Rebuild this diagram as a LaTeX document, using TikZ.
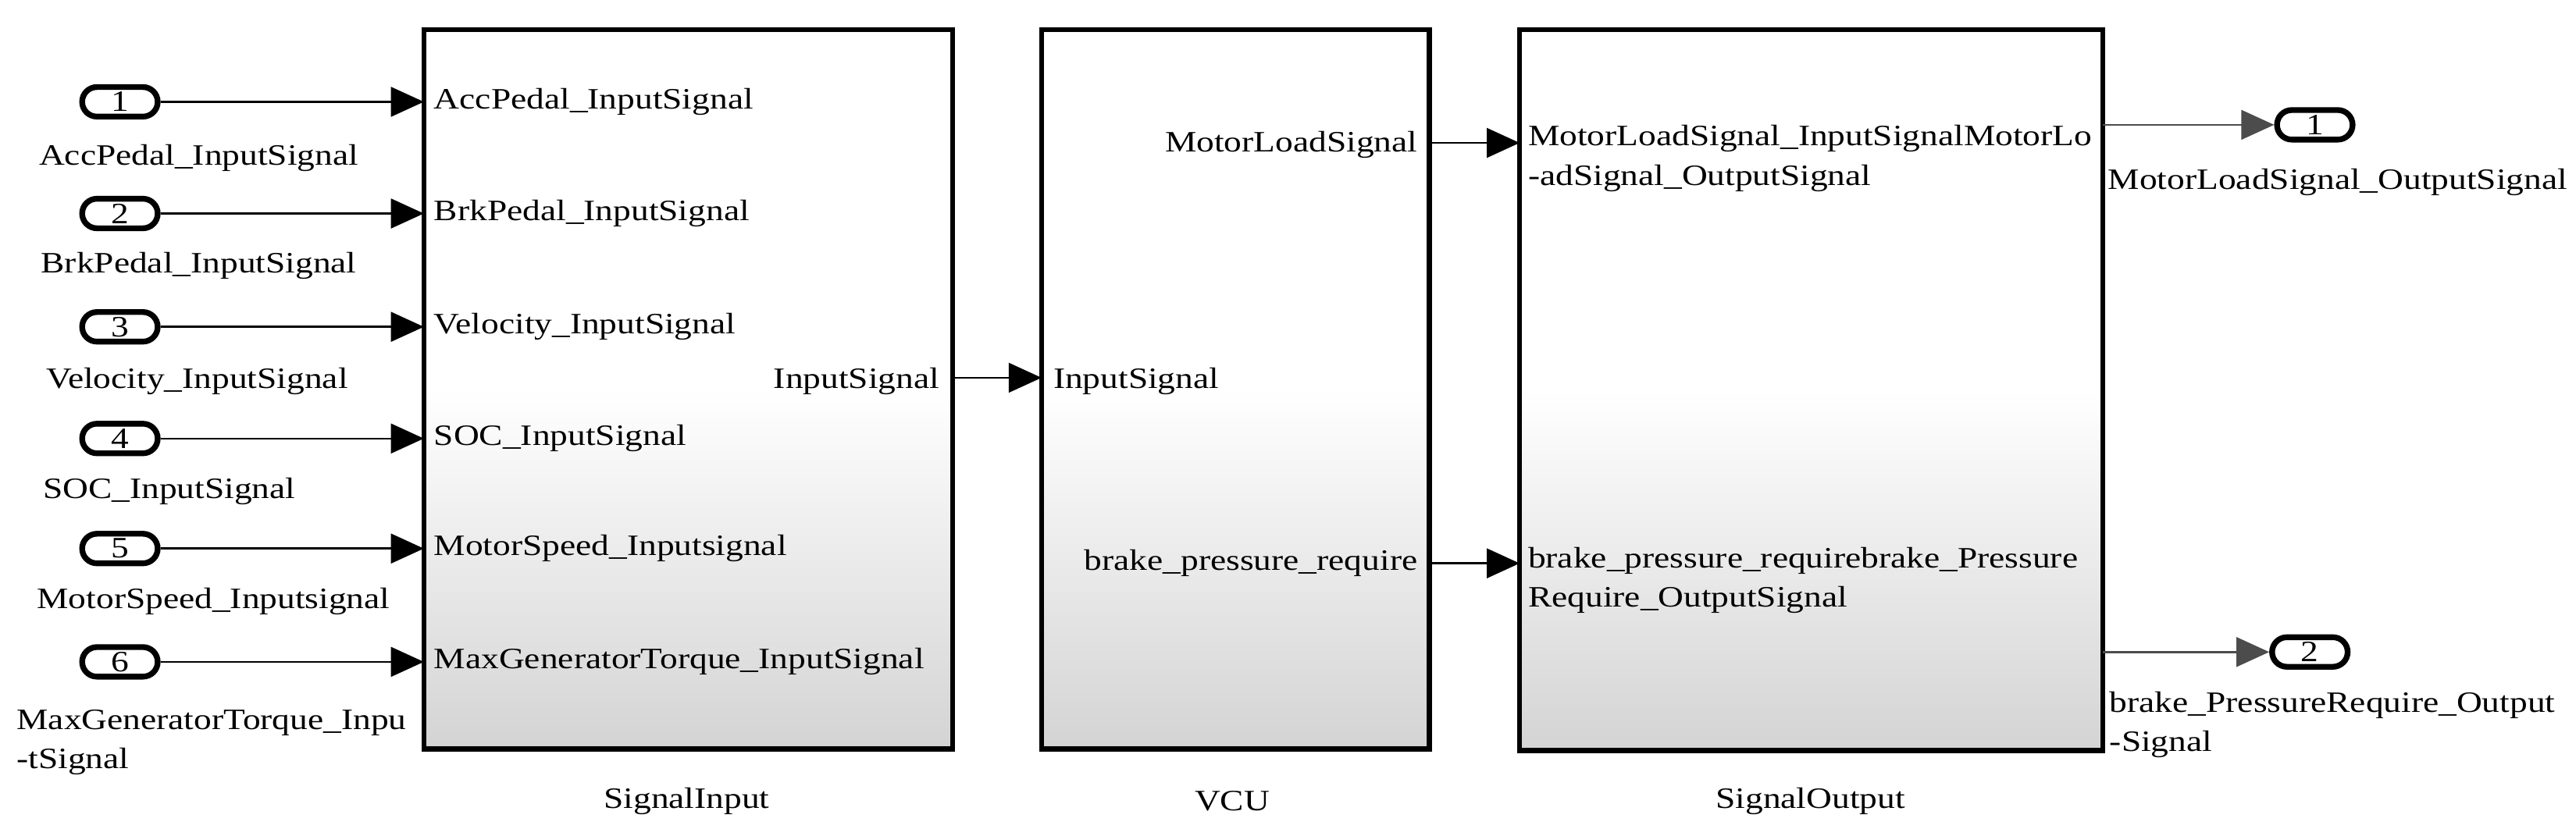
\documentclass[tikz,border=0pt]{standalone}
\usepackage{fontspec}
\setmainfont{Liberation Serif}[FakeStretch=1.2]
\usetikzlibrary{arrows.meta}
\begin{document}
\begin{tikzpicture}[x=1pt,y=-1pt,
  txt/.style={font=\fontsize{18}{24}\selectfont, inner sep=0pt},
  port/.style={draw, line width=3.5pt, rounded corners=9pt, minimum width=46pt, minimum height=18pt, inner sep=0pt, font=\fontsize{18}{20}\selectfont},
  blk/.style={draw, line width=3pt, top color=white, bottom color=black!17, middle color=white},
  sig/.style={line width=1.2pt, -{Triangle[length=20pt,width=18pt]}},
  osig/.style={line width=1.2pt, draw=black!70, -{Triangle[length=20pt,width=18pt]}}]
\useasboundingbox (0,0) rectangle (1568,509);
% blocks
\shade[blk] (258,18) rectangle (580,456);
\draw[line width=3pt] (258,18) rectangle (580,456);
\shade[blk] (634,18) rectangle (870,456);
\draw[line width=3pt] (634,18) rectangle (870,456);
\shade[blk] (925,18) rectangle (1280,457);
\draw[line width=3pt] (925,18) rectangle (1280,457);
\node[txt] (lsi) at (418,488) {SignalInput};
\node[txt] (lvcu) at (750,488) {VCU};
\node[txt] (lso) at (1102,488) {SignalOutput};
% inports
\foreach \i/\y/\t in {1/62/AccPedal\_InputSignal, 2/130/BrkPedal\_InputSignal, 3/199/Velocity\_InputSignal, 4/267/SOC\_InputSignal, 5/334/MotorSpeed\_Inputsignal, 6/403/MaxGeneratorTorque\_InputSignal}{
  \node[port] (in\i) at (73,\y) {\i};
  \coordinate (p\i) at (258,\y);
  \node[txt, anchor=west] (pl\i) at (264,\y) {\t};
  \draw[sig] (in\i) -- (p\i);
}
\node[txt] (il1) at (121,96) {AccPedal\_InputSignal};
\node[txt] (il2) at (121,162) {BrkPedal\_InputSignal};
\node[txt] (il3) at (120,232) {Velocity\_InputSignal};
\node[txt] (il4) at (103,299) {SOC\_InputSignal};
\node[txt] (il5) at (130,366) {MotorSpeed\_Inputsignal};
\node[txt, anchor=west, align=left] (il6) at (10,452) {MaxGeneratorTorque\_Inpu\\-tSignal};
% SignalInput -> VCU
\node[txt, anchor=east] (siout) at (572,232) {InputSignal};
\coordinate (so1) at (580,230);
\coordinate (vi1) at (634,230);
\draw[sig] (so1) -- (vi1);
\node[txt, anchor=west] (vin) at (641,232) {InputSignal};
% VCU outputs
\node[txt, anchor=east] (vo1) at (863,88) {MotorLoadSignal};
\node[txt, anchor=east] (vo2) at (863,343) {brake\_pressure\_require};
\coordinate (vc1) at (870,87);
\coordinate (vc2) at (870,343);
\coordinate (sc1) at (925,87);
\coordinate (sc2) at (925,343);
\draw[sig] (vc1) -- (sc1);
\draw[sig] (vc2) -- (sc2);
\node[txt, anchor=north west, align=left] (so1l) at (930,76) {MotorLoadSignal\_InputSignalMotorLo\\-adSignal\_OutputSignal};
\node[txt, anchor=north west, align=left] (so2l) at (930,333) {brake\_pressure\_requirebrake\_Pressure\\Require\_OutputSignal};
% outports
\node[port] (out1) at (1409,76) {1};
\node[port] (out2) at (1406,397) {2};
\coordinate (oc1) at (1280,76);
\coordinate (oc2) at (1280,397);
\draw[osig] (oc1) -- (out1);
\draw[osig] (oc2) -- (out2);
\node[txt, anchor=west] (ol1) at (1283,111) {MotorLoadSignal\_OutputSignal};
\node[txt, anchor=north west, align=left] (ol2) at (1284,421) {brake\_PressureRequire\_Output\\-Signal};
\end{tikzpicture}
\end{document}
